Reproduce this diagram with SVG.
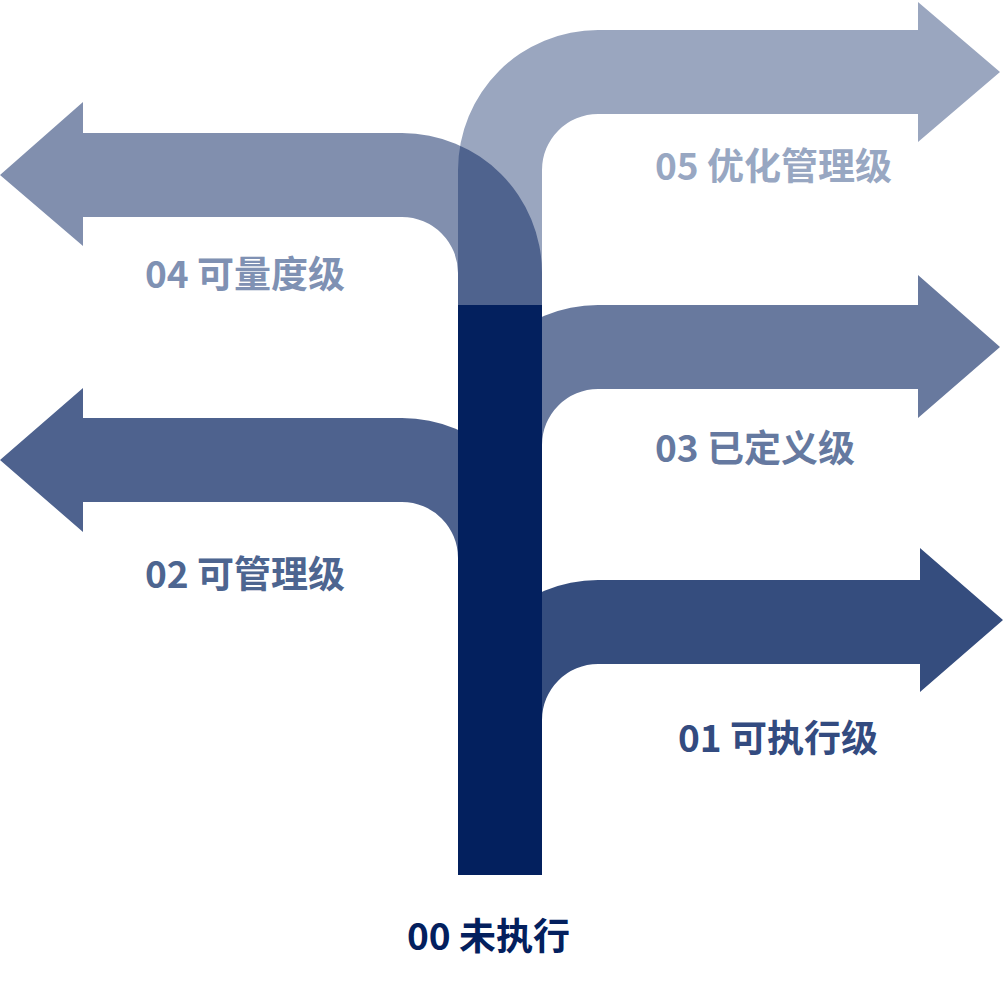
<svg xmlns="http://www.w3.org/2000/svg" width="1003" height="985" viewBox="0 0 1003 985">
<style>
.a{fill:#03205E}
.t{font-family:"Noto Sans CJK SC","Noto Sans",sans-serif;font-weight:bold;font-size:37px}
</style>
<rect width="1003" height="985" fill="#fff"/>
<g id="connectors">
<path id="a05" class="a" fill-opacity="0.4" d="M458,305 V170 A140,140 0 0 1 598,30 H918 V2 L1000,72 L918,142 V114 H598 A56,56 0 0 0 542,170 V305 Z"/>
<path id="a04" class="a" fill-opacity="0.5" d="M542,305 V273 A140,140 0 0 0 402,133 H83 V102 L0,175 L83,246 V217 H402 A56,56 0 0 1 458,273 V305 Z"/>
<path id="a03" class="a" fill-opacity="0.6" d="M458,445 A140,140 0 0 1 598,305 H918 V275 L1000,347 L918,418 V389 H598 A56,56 0 0 0 542,445 Z"/>
<path id="a02" class="a" fill-opacity="0.7" d="M542,558 A140,140 0 0 0 402,418 H83 V388 L0,460 L83,532 V502 H402 A56,56 0 0 1 458,558 Z"/>
<path id="a01" class="a" fill-opacity="0.8" d="M458,720 A140,140 0 0 1 598,580 H920 V548 L1003,620 L920,692 V664 H598 A56,56 0 0 0 542,720 Z"/>
</g>
<g id="trunk"><rect class="a" x="458" y="305" width="84" height="570"/></g>
<g id="labels">
<text class="t" x="655" y="180" fill="#98A7C2">05 优化管理级</text>
<text class="t" x="145" y="288" fill="#7F91B3">04 可量度级</text>
<text class="t" x="655" y="462" fill="#6579A0">03 已定义级</text>
<text class="t" x="145" y="588" fill="#4D6590">02 可管理级</text>
<text class="t" x="678" y="752" fill="#334B80">01 可执行级</text>
<text class="t" x="407" y="950" fill="#03205E">00 未执行</text>
</g>
</svg>
